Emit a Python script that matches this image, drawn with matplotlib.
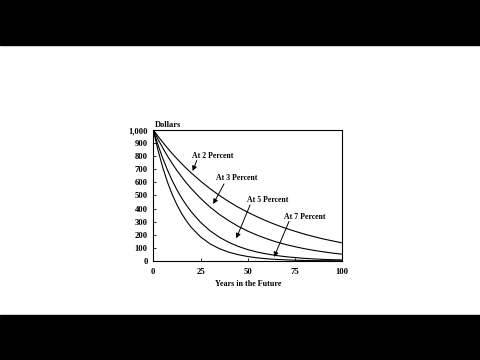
import numpy as np
import matplotlib
matplotlib.use('Agg')
import matplotlib.pyplot as plt
from matplotlib.patches import Rectangle

# Present value of $1,000 received in the future
years = [0, 2.5, 5, 7.5, 10, 12.5, 15, 17.5, 20, 25, 30, 35, 40, 45, 50,
         55, 60, 65, 70, 75, 80, 85, 90, 95, 100]
pv_2 = [1000, 952, 906, 862, 820, 781, 743, 707, 673, 610, 552, 500, 453, 410, 372,
        337, 305, 276, 250, 227, 205, 186, 168, 153, 138]
pv_3 = [1000, 929, 863, 801, 744, 691, 642, 596, 554, 478, 412, 355, 307, 264, 228,
        197, 170, 146, 126, 109, 94, 81, 70, 60, 52]
pv_5 = [1000, 885, 784, 694, 614, 543, 481, 426, 377, 295, 231, 181, 142, 111, 87,
        68, 54, 42, 33, 26, 20, 16, 12, 10, 8]
pv_7 = [1000, 845, 713, 602, 508, 429, 362, 306, 258, 184, 131, 94, 67, 48, 34,
        24, 17, 12, 9, 6, 4, 3, 2, 2, 1]

series = [pv_2, pv_3, pv_5, pv_7]
labels = ['At 2 Percent', 'At 3 Percent', 'At 5 Percent', 'At 7 Percent']

plt.rcParams['font.family'] = ['Liberation Serif', 'DejaVu Serif']
plt.rcParams['font.weight'] = 'bold'

fig = plt.figure(figsize=(4.8, 3.6), dpi=100)
fig.patches.append(Rectangle((0, 0), 1, 0.125, transform=fig.transFigure,
                             color='black', zorder=0))
fig.patches.append(Rectangle((0, 0.875), 1, 0.125, transform=fig.transFigure,
                             color='black', zorder=0))

ax = fig.add_axes([0.3194, 0.275, 0.3937, 0.3639])
for s in series:
    ax.plot(years, s, color='black', lw=0.8)

ax.set_xlim(0, 100)
ax.set_ylim(0, 1000)
ax.set_xticks([0, 25, 50, 75, 100])
ax.set_yticks(range(0, 1001, 100))
ax.set_yticklabels([f'{v:,}' for v in range(0, 1001, 100)])
ax.tick_params(direction='in', length=2, width=0.6, labelsize=6.2, pad=4)
ax.tick_params(axis='x', pad=5)
for sp in ax.spines.values():
    sp.set_linewidth(0.8)

ax.text(0.01, 1.01, 'Dollars', transform=ax.transAxes, ha='left', va='bottom',
        fontsize=6, fontweight='bold')
ax.set_xlabel('Years in the Future', fontsize=5.8, fontweight='bold', labelpad=3)

# text left/centre y, arrow start, arrow tip (data coords)
notes = [((20.3, 805), (23.0, 767), (20.8, 687)),
         ((33.2, 631), (37.4, 588), (31.7, 435)),
         ((49.4, 469), (51.2, 427), (43.9, 173)),
         ((69.2, 338), (71.8, 302), (63.9, 31))]
for lab, (txt, start, tip) in zip(labels, notes):
    ax.text(txt[0], txt[1], lab, ha='left', va='center', fontsize=5.6,
            fontweight='bold')
    ax.annotate('', xy=tip, xytext=start,
                arrowprops=dict(arrowstyle='-|>', color='black', lw=0.7,
                                mutation_scale=7, shrinkA=0, shrinkB=0))

fig.savefig('out.png', dpi=100)
